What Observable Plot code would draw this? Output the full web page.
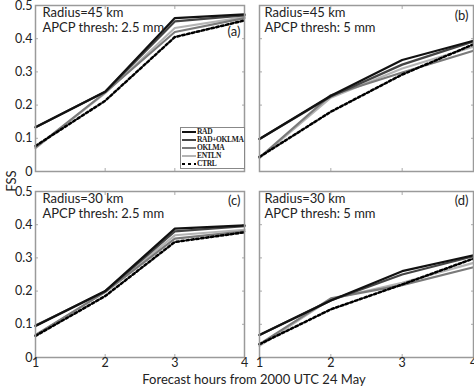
<!DOCTYPE html>
<html><head><meta charset="utf-8">
<script src="https://cdn.jsdelivr.net/npm/d3@7"></script>
<script src="https://cdn.jsdelivr.net/npm/@observablehq/plot@0.6"></script>
<style>
body{margin:0;background:#fff;}
#wrap{position:relative;width:474px;height:386px;font-family:Lato,sans-serif;color:#222;overflow:hidden;}
.p{position:absolute;}
.leg{position:absolute;left:180px;top:127px;width:65px;height:42px;border:1px solid #888;background:#fff;font-family:"Liberation Serif",serif;font-weight:bold;font-size:7.5px;letter-spacing:-0.35px;padding-top:0px;box-sizing:border-box;overflow:hidden;}
.leg div{display:flex;align-items:center;height:8px;line-height:8px;white-space:nowrap;}
.leg svg{margin-left:1px;margin-right:1px;flex:none;}
</style></head><body><div id="wrap"></div>
<script>
const hours = [1, 2, 3, 4];
const yTicks = [0, 0.1, 0.2, 0.3, 0.4, 0.5];
const series = ["RAD", "RAD+OKLMA", "OKLMA", "ENTLN", "CTRL"];
const panelLabels = ["(a)", "(b)", "(c)", "(d)"];
const radiusText = ["Radius=45 km", "Radius=45 km", "Radius=30 km", "Radius=30 km"];
const threshText = ["APCP thresh: 2.5 mm", "APCP thresh: 5 mm", "APCP thresh: 2.5 mm", "APCP thresh: 5 mm"];
const xTitle = "Forecast hours from 2000 UTC 24 May";
const yTitle = "FSS";

// (a) Radius 45 km, 2.5 mm
const a_RAD       = [0.133, 0.240, 0.462, 0.473];
const a_RADOKLMA  = [0.133, 0.240, 0.452, 0.470];
const a_OKLMA     = [0.072, 0.238, 0.420, 0.462];
const a_ENTLN     = [0.070, 0.236, 0.432, 0.465];
const a_CTRL      = [0.077, 0.213, 0.405, 0.455];
// (b) Radius 45 km, 5 mm
const b_RAD       = [0.098, 0.228, 0.336, 0.394];
const b_RADOKLMA  = [0.098, 0.226, 0.322, 0.392];
const b_OKLMA     = [0.042, 0.230, 0.298, 0.364];
const b_ENTLN     = [0.040, 0.222, 0.310, 0.376];
const b_CTRL      = [0.044, 0.180, 0.292, 0.383];
// (c) Radius 30 km, 2.5 mm
const c_RAD       = [0.095, 0.200, 0.388, 0.398];
const c_RADOKLMA  = [0.096, 0.199, 0.380, 0.396];
const c_OKLMA     = [0.068, 0.197, 0.358, 0.380];
const c_ENTLN     = [0.066, 0.199, 0.368, 0.385];
const c_CTRL      = [0.065, 0.185, 0.348, 0.377];
// (d) Radius 30 km, 5 mm
const d_RAD       = [0.068, 0.172, 0.260, 0.308];
const d_RADOKLMA  = [0.068, 0.172, 0.250, 0.305];
const d_OKLMA     = [0.040, 0.178, 0.218, 0.272];
const d_ENTLN     = [0.035, 0.176, 0.225, 0.285];
const d_CTRL      = [0.040, 0.145, 0.220, 0.298];

const panels = [
  [a_RAD, a_RADOKLMA, a_OKLMA, a_ENTLN, a_CTRL],
  [b_RAD, b_RADOKLMA, b_OKLMA, b_ENTLN, b_CTRL],
  [c_RAD, c_RADOKLMA, c_OKLMA, c_ENTLN, c_CTRL],
  [d_RAD, d_RADOKLMA, d_OKLMA, d_ENTLN, d_CTRL]
];

const styles = {
  "RAD":       {stroke: "#111", strokeWidth: 2.2},
  "RAD+OKLMA": {stroke: "#444", strokeWidth: 2.3},
  "OKLMA":     {stroke: "#7a7a7a", strokeWidth: 2.1},
  "ENTLN":     {stroke: "#b4b4b4", strokeWidth: 2.1},
  "CTRL":      {stroke: "#000", strokeWidth: 2.5, strokeDasharray: "2.6,2.4"}
};
const drawOrder = ["ENTLN", "OKLMA", "RAD+OKLMA", "RAD", "CTRL"];

// layout of the four panels (wrapper box and margins)
const layout = [
  {left: 0,   top: 0,   width: 250, height: 180, mL: 35, mT: 5, mR: 6, mB: 9,  lx: 7, ldx: -4, ldy: 21, bottom: false, left_: true},
  {left: 250, top: 0,   width: 224, height: 180, mL: 9,  mT: 5, mR: 1, mB: 9,  lx: 5, ldx: -5, ldy: 5,  bottom: false, left_: false},
  {left: 0,   top: 186, width: 250, height: 200, mL: 35, mT: 5, mR: 6, mB: 29, lx: 7, ldx: -4, ldy: 4,  bottom: true,  left_: true},
  {left: 250, top: 186, width: 224, height: 200, mL: 9,  mT: 5, mR: 1, mB: 29, lx: 5, ldx: -5, ldy: 4,  bottom: true,  left_: false}
];

const wrap = document.getElementById("wrap");
const tickColor = "#aaa";

panels.forEach((vals, i) => {
  const L = layout[i];
  const rows = [];
  series.forEach((s, k) => hours.forEach((h, j) => rows.push({series: s, hour: h, fss: vals[k][j]})));
  const lineMarks = drawOrder.map(s => Plot.line(rows.filter(r => r.series === s), {x: "hour", y: "fss", ...styles[s], strokeLinejoin: "miter"}));
  const marks = [
    // inward ticks on all sides
    Plot.axisX({anchor: "bottom", ticks: hours, tickSize: -3, tickFormat: () => "", stroke: tickColor, label: null}),
    Plot.axisX({anchor: "top", ticks: hours, tickSize: -3, tickFormat: () => "", stroke: tickColor, label: null}),
    Plot.axisY({anchor: "left", ticks: yTicks, tickSize: -3, tickFormat: () => "", stroke: tickColor, label: null}),
    Plot.axisY({anchor: "right", ticks: yTicks, tickSize: -3, tickFormat: () => "", stroke: tickColor, label: null}),
    ...lineMarks,
    Plot.frame({stroke: "#9a9a9a", strokeWidth: 1.5}),
    Plot.text([radiusText[i]], {text: d => d, frameAnchor: "top-left", dx: L.lx, dy: 2, lineAnchor: "top", fontSize: 13, fill: "#222"}),
    Plot.text([threshText[i]], {text: d => d, frameAnchor: "top-left", dx: L.lx, dy: 17, lineAnchor: "top", fontSize: 13, fill: "#222"}),
    Plot.text([panelLabels[i]], {text: d => d, frameAnchor: "top-right", dx: L.ldx, dy: L.ldy, lineAnchor: "top", fontSize: 13, fill: "#222"})
  ];
  if (L.left_) marks.push(Plot.axisY({anchor: "left", ticks: yTicks, tickSize: 0, tickPadding: 3, tickFormat: d => d === 0 ? "0" : d3.format(".1f")(d), fontSize: 12.5, label: null, fill: "#222"}));
  if (L.bottom) marks.push(Plot.axisX({anchor: "bottom", ticks: hours, tickSize: 0, tickPadding: 1, tickFormat: d => String(d), fontSize: 12.5, label: null, fill: "#222"}));
  const chart = Plot.plot({
    width: L.width, height: L.height,
    marginLeft: L.mL, marginTop: L.mT, marginRight: L.mR, marginBottom: L.mB,
    x: {domain: [1, 4], axis: null},
    y: {domain: [0, 0.5], axis: null},
    style: {fontFamily: "Lato, sans-serif", background: "transparent", overflow: "visible"},
    marks
  });
  const div = document.createElement("div");
  div.className = "p";
  div.style.left = L.left + "px";
  div.style.top = L.top + "px";
  div.appendChild(chart);
  wrap.appendChild(div);
});

// legend inside panel (a)
const leg = document.createElement("div");
leg.className = "leg";
series.forEach(s => {
  const st = styles[s];
  const dash = s === "CTRL" ? `stroke-dasharray="3,3"` : "";
  const row = document.createElement("div");
  row.innerHTML = `<svg width="14" height="6"><line x1="0" x2="14" y1="3" y2="3" stroke="${st.stroke}" stroke-width="2" ${dash}/></svg><span>${s}</span>`;
  leg.appendChild(row);
});
wrap.appendChild(leg);

// axis titles
const xt = document.createElement("div");
xt.textContent = xTitle;
xt.style.cssText = "position:absolute;left:254px;top:379px;transform:translate(-50%,-50%);font-size:13px;line-height:13px;white-space:nowrap;";
wrap.appendChild(xt);
const yt = document.createElement("div");
yt.textContent = yTitle;
yt.style.cssText = "position:absolute;left:11px;top:181px;transform:translate(-50%,-50%) rotate(-90deg);font-size:13px;line-height:13px;white-space:nowrap;";
wrap.appendChild(yt);
</script></body></html>
